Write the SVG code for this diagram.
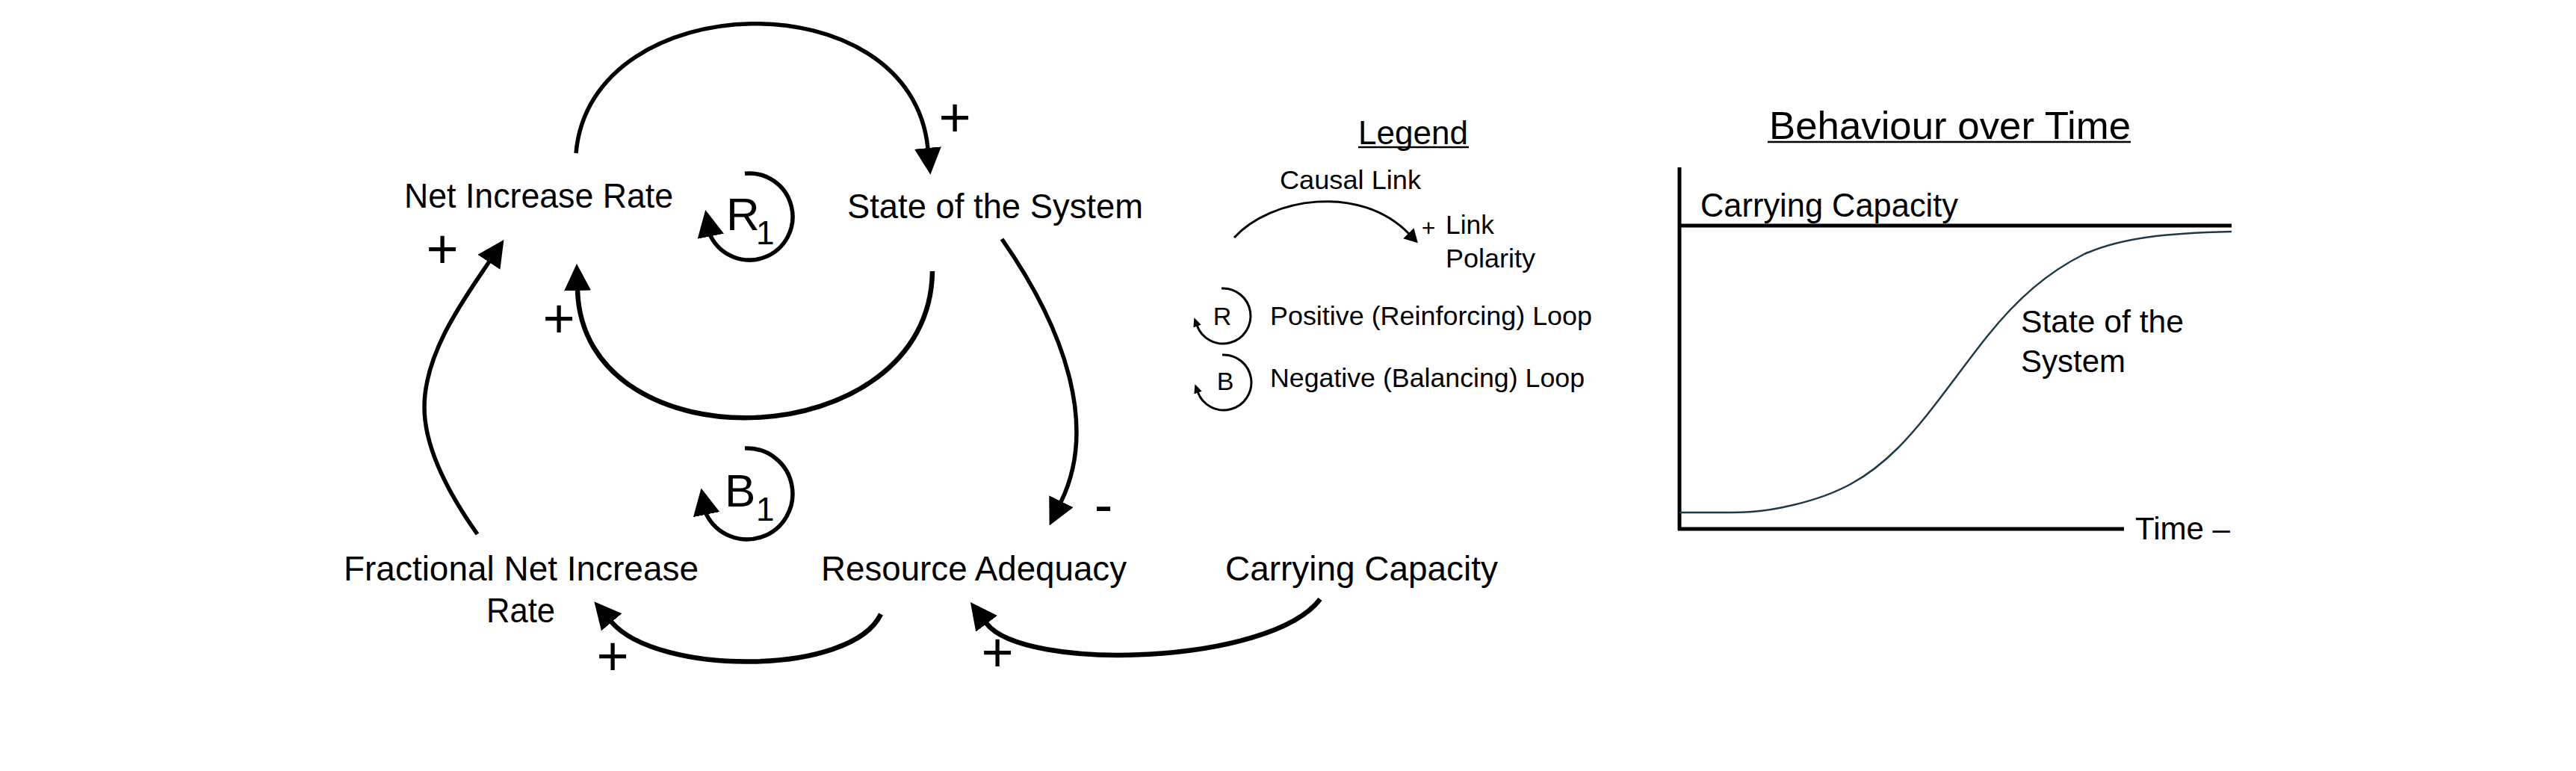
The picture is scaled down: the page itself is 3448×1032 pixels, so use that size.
<svg xmlns="http://www.w3.org/2000/svg" width="3448" height="1032" viewBox="0 0 3448 1032">
<style>
text{font-family:"Liberation Sans",Arial,sans-serif;fill:#000}
.node{font-size:46px}
.pol{font-size:74px;text-anchor:middle}
.loopl{font-size:62px}
.sub{font-size:44px}
.leg{font-size:35px}
.link{fill:none;stroke:#000;stroke-width:5.5}
.link.heavy{stroke-width:6.5}
.thin{fill:none;stroke:#000;stroke-width:3}
.axis{fill:none;stroke:#000;stroke-width:5}
.ul{stroke:#000;stroke-width:2.5}
</style>
<defs>
<marker id="arr" viewBox="0 0 36 36" refX="1" refY="18" markerWidth="36" markerHeight="36" markerUnits="userSpaceOnUse" orient="auto"><path d="M0,0 L36,18 L0,36 z" fill="#000"/></marker>
<marker id="arrS" viewBox="0 0 18 20" refX="1" refY="10" markerWidth="18" markerHeight="20" markerUnits="userSpaceOnUse" orient="auto"><path d="M0,0 L18,10 L0,20 z" fill="#000"/></marker>
<marker id="arrT" viewBox="0 0 12 11" refX="1" refY="5.5" markerWidth="12" markerHeight="11" markerUnits="userSpaceOnUse" orient="auto"><path d="M0,0 L12,5.5 L0,11 z" fill="#000"/></marker>
</defs>
<rect width="3448" height="1032" fill="#fff"/>

<g id="connectors">
<path class="link" d="M771,205 C790,-20 1220,-30 1242,199" marker-end="url(#arr)"/>
<path class="link heavy" d="M1248,363 C1245,612 780,628 773,388" marker-end="url(#arr)"/>
<path class="link" d="M639,715 C600,660 568,600 568,545 C568,470 625,395 655,350" marker-end="url(#arr)"/>
<path class="link" d="M1341,320 C1425,440 1470,570 1420,672" marker-end="url(#arr)"/>
<path class="link heavy" d="M1179,822 C1140,905 880,905 818,832" marker-end="url(#arr)"/>
<path class="link heavy" d="M1767,802 C1700,890 1370,900 1320,834" marker-end="url(#arr)"/>
</g>

<g id="polarities">
<text class="pol" x="1278" y="183">+</text>
<text class="pol" x="592" y="359">+</text>
<text class="pol" x="748" y="452">+</text>
<text class="pol" x="820" y="904">+</text>
<text class="pol" x="1335" y="899">+</text>
<text class="pol" x="1477" y="701">-</text>
</g>

<g id="node-net-increase-rate"><text class="node" x="541" y="278" textLength="360" lengthAdjust="spacingAndGlyphs">Net Increase Rate</text></g>
<g id="node-state-of-the-system"><text class="node" x="1134" y="292" textLength="396" lengthAdjust="spacingAndGlyphs">State of the System</text></g>
<g id="node-fractional-net-increase-rate">
<text class="node" x="460" y="777" textLength="475" lengthAdjust="spacingAndGlyphs">Fractional Net Increase</text>
<text class="node" x="651" y="833" textLength="92" lengthAdjust="spacingAndGlyphs">Rate</text>
</g>
<g id="node-resource-adequacy"><text class="node" x="1099" y="777" textLength="409" lengthAdjust="spacingAndGlyphs">Resource Adequacy</text></g>
<g id="node-carrying-capacity"><text class="node" x="1640" y="777" textLength="365" lengthAdjust="spacingAndGlyphs">Carrying Capacity</text></g>

<g id="loop-R1">
<path class="link" d="M997,232.3 A58,58 0 1 1 951.3,316.3 L951.1,315.3" marker-end="url(#arr)"/>
<text class="loopl" x="972" y="308">R</text>
<text class="sub" x="1012" y="327">1</text>
</g>
<g id="loop-B1">
<path class="link" d="M997,600 A61,61 0 1 1 945.6,688.7 L945.4,687.7" marker-end="url(#arr)"/>
<text class="loopl" x="970" y="678">B</text>
<text class="sub" x="1012" y="697">1</text>
</g>

<g id="legend">
<text x="1818" y="193" font-size="44" textLength="147" lengthAdjust="spacingAndGlyphs">Legend</text>
<line class="ul" x1="1818" y1="197" x2="1966" y2="197"/>
<text class="leg" x="1713" y="253" textLength="189" lengthAdjust="spacingAndGlyphs">Causal Link</text>
<path class="thin" d="M1652,318 C1700,265 1820,245 1886,313" marker-end="url(#arrS)"/>
<text x="1912" y="316" font-size="32" text-anchor="middle">+</text>
<text class="leg" x="1935" y="313" textLength="65" lengthAdjust="spacingAndGlyphs">Link</text>
<text class="leg" x="1935" y="358" textLength="120" lengthAdjust="spacingAndGlyphs">Polarity</text>
<path class="thin" d="M1635,386 A37,37 0 1 1 1602.2,435.7" marker-end="url(#arrT)"/>
<text x="1636" y="435" font-size="34" text-anchor="middle">R</text>
<text class="leg" x="1700" y="435" textLength="431" lengthAdjust="spacingAndGlyphs">Positive (Reinforcing) Loop</text>
<path class="thin" d="M1636,475 A37,37 0 1 1 1603.2,524.7" marker-end="url(#arrT)"/>
<text x="1640" y="522" font-size="34" text-anchor="middle">B</text>
<text class="leg" x="1700" y="518" textLength="421" lengthAdjust="spacingAndGlyphs">Negative (Balancing) Loop</text>
</g>

<g id="behaviour-over-time">
<text x="2368" y="186" font-size="52" textLength="484" lengthAdjust="spacingAndGlyphs">Behaviour over Time</text>
<line class="ul" x1="2366" y1="190" x2="2852" y2="190"/>
<path class="axis" d="M2248,224 V710"/>
<path class="axis" d="M2246,708 H2843"/>
<path class="axis" d="M2248,302 H2987"/>
<text x="2276" y="290" font-size="44" textLength="345" lengthAdjust="spacingAndGlyphs">Carrying Capacity</text>
<path d="M2248,686 C2330,686 2350,688 2400,676 C2460,662 2500,640 2540,600 C2580,560 2620,500 2660,450 C2700,400 2740,365 2790,340 C2840,318 2900,312 2987,310" fill="none" stroke="#1e3a48" stroke-width="2.5"/>
<text x="2705" y="445" font-size="43" textLength="218" lengthAdjust="spacingAndGlyphs">State of the</text>
<text x="2705" y="498" font-size="43" textLength="140" lengthAdjust="spacingAndGlyphs">System</text>
<text x="2858" y="722" font-size="42" textLength="127" lengthAdjust="spacingAndGlyphs">Time –</text>
</g>
</svg>
